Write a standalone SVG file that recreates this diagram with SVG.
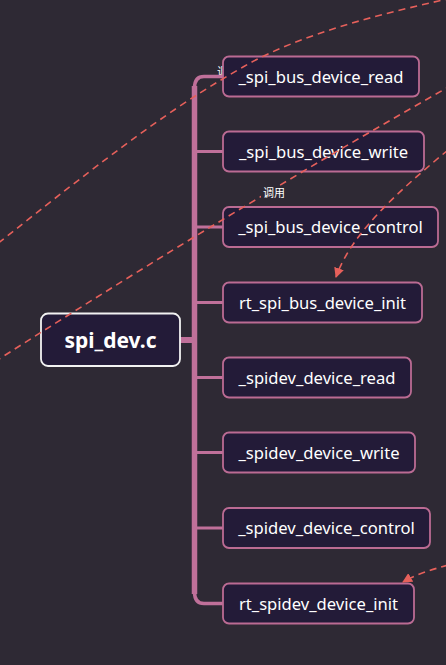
<svg xmlns="http://www.w3.org/2000/svg" width="446" height="665" viewBox="0 0 446 665">
  <defs>
    <style>
      .bg { fill: #2e2934; }
      .node rect { fill: #231b38; stroke: #bb6b93; stroke-width: 1.8; }
      .root rect { fill: #231b38; stroke: #f2f2f2; stroke-width: 1.8; }
      .node text { font-family: "Noto Sans", "Open Sans", sans-serif; font-size: 16.6px; fill: #ffffff; text-anchor: middle; }
      .root text { font-family: "Noto Sans", "Open Sans", sans-serif; font-size: 21px; font-weight: bold; fill: #ffffff; text-anchor: middle; }
      .branch { fill: none; stroke: #c0709a; stroke-linecap: butt; stroke-linejoin: round; }
      .edge { fill: none; stroke: #e6605b; stroke-width: 1.6; stroke-dasharray: 7 5; }
      .lbl { font-family: "Noto Sans CJK SC", "Noto Sans", sans-serif; font-size: 11px; fill: #ffffff; }
      .arrowhead { fill: #e6605b; }
    </style>
    <marker id="arr" viewBox="0 0 10 10" refX="9" refY="5" markerWidth="10" markerHeight="10" markerUnits="userSpaceOnUse" orient="auto">
      <path d="M0,0 L10,5 L0,10 z" class="arrowhead"/>
    </marker>
  </defs>
  <rect class="bg" x="0" y="0" width="446" height="665"/>

  <text class="lbl" x="217" y="76">调用</text>

  <g id="branches">
    <path class="branch" stroke-width="6" d="M180 340 H196"/>
    <path class="branch" stroke-width="5.5" d="M194.5 86 V594"/>
    <path class="branch" stroke-width="3.5" d="M194.5 88 Q194.5 76.5 204 76.5 H224"/>
    <path class="branch" stroke-width="3.5" d="M194.5 592 Q194.5 603.5 204 603.5 H224"/>
    <path class="branch" stroke-width="3" d="M196 151.5 H224"/>
    <path class="branch" stroke-width="3" d="M196 227 H224"/>
    <path class="branch" stroke-width="3" d="M196 302.5 H224"/>
    <path class="branch" stroke-width="3" d="M196 377.5 H224"/>
    <path class="branch" stroke-width="3" d="M196 452.5 H224"/>
    <path class="branch" stroke-width="3" d="M196 528 H224"/>
  </g>

  <g id="root" class="root">
    <rect x="41" y="313.5" width="139" height="52.5" rx="7"/>
    <text x="110.5" y="347.5">spi_dev.c</text>
  </g>
  <g id="n1" class="node">
    <rect x="223" y="56.5" width="196" height="40" rx="6"/>
    <text x="321" y="82.5">_spi_bus_device_read</text>
  </g>
  <g id="n2" class="node">
    <rect x="223" y="131.5" width="201" height="40" rx="6"/>
    <text x="323.5" y="157.5">_spi_bus_device_write</text>
  </g>
  <g id="n3" class="node">
    <rect x="223" y="207" width="215" height="40" rx="6"/>
    <text x="330.5" y="233">_spi_bus_device_control</text>
  </g>
  <g id="n4" class="node">
    <rect x="223" y="282.5" width="199" height="40" rx="6"/>
    <text x="322.5" y="308.5">rt_spi_bus_device_init</text>
  </g>
  <g id="n5" class="node">
    <rect x="223" y="357.5" width="188" height="40" rx="6"/>
    <text x="317" y="383.5">_spidev_device_read</text>
  </g>
  <g id="n6" class="node">
    <rect x="223" y="432.5" width="192" height="40" rx="6"/>
    <text x="319" y="458.5">_spidev_device_write</text>
  </g>
  <g id="n7" class="node">
    <rect x="223" y="508" width="207" height="40" rx="6"/>
    <text x="326.5" y="534">_spidev_device_control</text>
  </g>
  <g id="n8" class="node">
    <rect x="223" y="583.5" width="191" height="40" rx="6"/>
    <text x="318.5" y="609.5">rt_spidev_device_init</text>
  </g>

  <g id="connectors">
    <path class="edge" d="M452 -2 C380 14, 300 34, 243 67 S140 130, -4 245"/>
    <path class="edge" d="M452 85 Q240 205, -4 361"/>
    <path class="edge" d="M448 150 C400 190, 352 232, 336 277" marker-end="url(#arr)"/>
    <path class="edge" d="M448 565 C430 570, 415 575, 403 582" marker-end="url(#arr)"/>
    <rect class="bg" x="261" y="186" width="26" height="14"/>
    <text class="lbl" x="263" y="197">调用</text>
  </g>
</svg>
